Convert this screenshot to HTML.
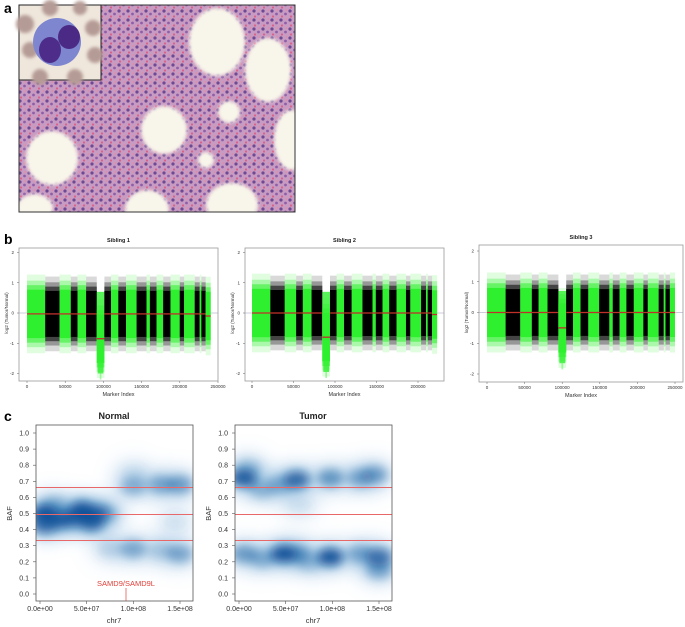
<!DOCTYPE html>
<html><head><meta charset="utf-8">
<style>
html,body{margin:0;padding:0;background:#fff;}
svg{display:block;font-family:"Liberation Sans",Arial,sans-serif;}
</style></head>
<body>
<svg id="fig" width="685" height="627" viewBox="0 0 685 627" xmlns="http://www.w3.org/2000/svg">
<defs>
  <pattern id="tissue" width="9" height="9" patternUnits="userSpaceOnUse">
    <rect width="9" height="9" fill="#c79bc2"/>
    <circle cx="2" cy="2" r="1.6" fill="#6d4a93"/>
    <circle cx="6.5" cy="5" r="1.4" fill="#8e5fa8"/>
    <circle cx="3" cy="7.5" r="1.1" fill="#d9628a"/>
    <circle cx="7.5" cy="1" r="0.9" fill="#e38aa6"/>
  </pattern>
  <filter id="blur" x="-50%" y="-50%" width="200%" height="200%"><feGaussianBlur stdDeviation="5"/></filter>
  <filter id="blur2" x="-50%" y="-50%" width="200%" height="200%"><feGaussianBlur stdDeviation="9"/></filter>
  <filter id="soft"><feGaussianBlur stdDeviation="1.5"/></filter>
  <clipPath id="clipN"><rect x="36" y="425" width="157" height="176"/></clipPath>
  <clipPath id="clipT"><rect x="235" y="425" width="157" height="176"/></clipPath>
  <clipPath id="clipA"><rect x="19" y="5" width="276" height="207"/></clipPath>
</defs>

<text x="4" y="13" font-size="14" font-weight="bold">a</text>
<g clip-path="url(#clipA)">
  <rect x="19" y="5" width="276" height="207" fill="url(#tissue)"/>
  <g fill="#f8f5ea" filter="url(#soft)">
    <ellipse cx="217" cy="42" rx="28" ry="34"/>
    <ellipse cx="268" cy="70" rx="23" ry="32"/>
    <ellipse cx="164" cy="130" rx="23" ry="24"/>
    <ellipse cx="52" cy="158" rx="26" ry="27"/>
    <ellipse cx="292" cy="140" rx="18" ry="30"/>
    <ellipse cx="229" cy="112" rx="11" ry="11"/>
    <ellipse cx="147" cy="210" rx="22" ry="20"/>
    <ellipse cx="232" cy="205" rx="26" ry="22"/>
    <ellipse cx="35" cy="208" rx="18" ry="14"/>
    <ellipse cx="206" cy="160" rx="8" ry="8"/>
  </g>
</g>
<rect x="19" y="5" width="276" height="207" fill="none" stroke="#333" stroke-width="1"/>
<g>
  <rect x="19" y="5" width="82" height="75" fill="#efe7dc" stroke="#222" stroke-width="1"/>
  <g fill="#b59b95" filter="url(#soft)">
    <circle cx="25" cy="24" r="9"/><circle cx="30" cy="50" r="8"/><circle cx="93" cy="28" r="8"/>
    <circle cx="95" cy="55" r="8"/><circle cx="50" cy="8" r="8"/><circle cx="80" cy="8" r="7"/>
    <circle cx="40" cy="77" r="8"/><circle cx="75" cy="77" r="8"/>
  </g>
  <circle cx="57" cy="42" r="24" fill="#7e86cf"/>
  <ellipse cx="50" cy="50" rx="11" ry="13" fill="#4d2c8a"/>
  <ellipse cx="69" cy="37" rx="11" ry="12" fill="#4a2a85"/>
</g>

<text x="4" y="244" font-size="14" font-weight="bold">b</text>
<g id="panelB"></g>

<text x="4" y="421" font-size="14" font-weight="bold">c</text>
<g id="panelC"></g>
</svg>

<script>
const chrBoundaries = [0,23900,42600,57400,66100,77400,91300,101300,110000,119600,129600,143500,156500,160900,169600,178300,187800,200000,205700,219600,226100,228300,233900,240400];
const sib1Means = [-0.03,-0.03,-0.03,-0.03,-0.03,-0.03,-0.85,-0.03,-0.03,-0.03,-0.03,-0.03,-0.03,-0.03,-0.03,-0.03,-0.03,-0.03,-0.03,-0.03,-0.03,-0.03,-0.1];
const sib2Means = [0,0,0,0,0,0,-0.8,0,0,0,0,0,0,0,0,0,0,0,0,0,0,0,-0.05];
const sib3Means = [0,0,0,0,0,0,-0.5,0,0,0,0,0,0,0,0,0,0,0,0,0,0,0,0];
const sibTitles = ["Sibling 1","Sibling 2","Sibling 3"];
const sibTotals = [240400,223000,250000];
const sibTicks1 = [0,50000,100000,150000,200000,250000];
const sibTicks2 = [0,50000,100000,150000,200000];
const sibTicks3 = [0,50000,100000,150000,200000,250000];
const yTicksB = [-2,-1,0,1,2];

const normalPos = [0.05,0.05,0.2,0.35,0.45,0.55,0.6,0.7,1.0,1.0,1.3,1.5,1.5,1.3,0.75,1.0,1.45,0.15];
const normalBaf = [0.50,0.43,0.46,0.47,0.52,0.45,0.50,0.50,0.67,0.28,0.68,0.68,0.25,0.27,0.28,0.75,0.45,0.55];
const normalW   = [0.95,0.8,0.85,0.85,0.95,0.9,0.8,0.45,0.5,0.55,0.55,0.6,0.55,0.35,0.3,0.2,0.2,0.45];
const tumorPos = [0.05,0.05,0.25,0.25,0.48,0.45,0.62,0.62,0.75,0.98,0.98,1.3,1.45,1.3,1.5,1.5,0.65,0.1];
const tumorBaf = [0.72,0.25,0.65,0.22,0.25,0.68,0.71,0.25,0.20,0.23,0.72,0.72,0.74,0.25,0.23,0.15,0.55,0.78];
const tumorW   = [0.9,0.6,0.45,0.5,0.95,0.5,0.85,0.6,0.4,0.95,0.65,0.55,0.6,0.55,0.8,0.55,0.2,0.4];
const bafLines = [0.333,0.5,0.667];
const bafTicks = [0,0.1,0.2,0.3,0.4,0.5,0.6,0.7,0.8,0.9,1.0];
const chrTicks = [0,0.5,1.0,1.5];
const chrTickLabels = ["0.0e+00","5.0e+07","1.0e+08","1.5e+08"];

const NS = "http://www.w3.org/2000/svg";
function mk(tag, attrs, parent){
  const e = document.createElementNS(NS, tag);
  for (const k in attrs) e.setAttribute(k, attrs[k]);
  parent.appendChild(e);
  return e;
}

const B = document.getElementById('panelB');
const sibFrames = [
  {fx:19, fw:199, fy:248, fh:133, x0:27, xpp:191/250000, yz:313, ypu:30.25},
  {fx:245, fw:199, fy:248, fh:133, x0:252, xpp:166/200000, yz:313, ypu:30.25},
  {fx:479, fw:204, fy:245, fh:137, x0:487, xpp:188/250000, yz:312.5, ypu:30.75}
];
const sibMeansAll = [sib1Means, sib2Means, sib3Means];
const sibTicksAll = [sibTicks1, sibTicks2, sibTicks3];
sibFrames.forEach((f, si) => {
  const g = mk('g', {}, B);
  
  
  const scale = sibTotals[si] / chrBoundaries[chrBoundaries.length-1];
  const X = v => f.x0 + v * f.xpp;
  const Y = v => f.yz - v * f.ypu;
  mk('line', {x1:f.fx, x2:f.fx+f.fw, y1:Y(0), y2:Y(0), stroke:'#ccd', 'stroke-width':1}, g);
  const fuzz = [[1.3,0.15],[1.1,0.3],[0.95,0.55],[0.8,1]];
  for (let i = 0; i < chrBoundaries.length-1; i++) {
    const a = chrBoundaries[i]*scale, b = chrBoundaries[i+1]*scale;
    const green = (i % 2 === 0);
    const col = green ? '#2ef02e' : '#000';
    const m = sibMeansAll[si][i];
    const seg = mk('g', {}, g);
    
    
    fuzz.forEach(([h, op]) => {
      const hh = green ? h : h*0.95;
      mk('rect', {x:X(a), width:X(b)-X(a), y:Y(m+hh), height:Y(m-hh)-Y(m+hh), fill:col, opacity:op}, seg);
    });
    if (m < -0.3) {
      mk('rect', {x:X(a)+1, width:X(b)-X(a)-2, y:Y(m-0.8), height:Y(m-1.15)-Y(m-0.8), fill:col, opacity:0.8}, seg);
      mk('rect', {x:X(a)+3, width:X(b)-X(a)-6, y:Y(m-1.15), height:Y(m-1.35)-Y(m-1.15), fill:col, opacity:0.4}, seg);
      mk('rect', {x:X(a), width:X(b)-X(a), y:Y(0.7), height:Y(m)-Y(0.7), fill:col, opacity:0.8}, seg);
    }
    const ln = mk('line', {x1:X(a), x2:X(b), y1:Y(m), y2:Y(m), stroke:'#c0302a', 'stroke-width':1.3}, g);
    
    
  }
  mk('rect', {x:f.fx, y:f.fy, width:f.fw, height:f.fh, fill:'none', stroke:'#999', 'stroke-width':0.8}, g);
  yTicksB.forEach(t => {
    mk('line', {x1:f.fx-2, x2:f.fx, y1:Y(t), y2:Y(t), stroke:'#666', 'stroke-width':0.5}, g);
    const tx = mk('text', {x:f.fx-5, y:Y(t)+1.5, 'font-size':4.5, 'text-anchor':'end', fill:'#333'}, g);
    tx.textContent = t;
  });
  sibTicksAll[si].forEach(t => {
    mk('line', {x1:X(t), x2:X(t), y1:f.fy+f.fh, y2:f.fy+f.fh+2, stroke:'#666', 'stroke-width':0.5}, g);
    const tx = mk('text', {x:X(t), y:f.fy+f.fh+7, 'font-size':4.5, 'text-anchor':'middle', fill:'#333'}, g);
    tx.textContent = t;
  });
  const title = mk('text', {x:f.fx+f.fw/2, y:f.fy-6, 'font-size':5.5, 'font-weight':'bold', 'text-anchor':'middle', fill:'#222'}, g);
  
  
  title.textContent = sibTitles[si];
  const xl = mk('text', {x:f.fx+f.fw/2, y:f.fy+f.fh+15, 'font-size':5.5, 'text-anchor':'middle', fill:'#333'}, g);
  
  
  xl.textContent = 'Marker Index';
  const yl = mk('text', {x:0, y:0, 'font-size':4.5, 'text-anchor':'middle', fill:'#333', transform:'translate(' + (f.fx-11) + ',' + Y(0) + ') rotate(-90)'}, g);
  
  
  yl.textContent = 'log2 (Tumor/Normal)';
});

const C = document.getElementById('panelC');
const bafFrames = [
  {fx:36, fx0:40, title:'Normal', clip:'clipN', pos:normalPos, baf:normalBaf, w:normalW},
  {fx:235, fx0:239, title:'Tumor', clip:'clipT', pos:tumorPos, baf:tumorBaf, w:tumorW}
];
bafFrames.forEach((f, pi) => {
  const g = mk('g', {}, C);
  
  
  const X = v => f.fx0 + v * 93.33;
  const Y = v => 594 - v * 161;
  const dens = mk('g', {'clip-path':'url(#' + f.clip + ')'}, g);
  const halo = mk('g', {filter:'url(#blur2)'}, dens);
  for (let i = 0; i < f.pos.length; i++) {
    mk('ellipse', {cx:X(f.pos[i]), cy:Y(f.baf[i]), rx:22, ry:16, fill:'#6aa6d6', opacity:0.35*f.w[i]+0.1}, halo);
  }
  const inner = mk('g', {filter:'url(#blur)'}, dens);
  for (let i = 0; i < f.pos.length; i++) {
    const e = mk('ellipse', {cx:X(f.pos[i]), cy:Y(f.baf[i]), rx:13, ry:9, fill:'#0b4f96', opacity:Math.pow(f.w[i],1.5)}, inner);
    
    
  }
  bafLines.forEach(v => {
    const l = mk('line', {x1:f.fx, x2:f.fx+157, y1:Math.round(Y(v))+0.5, y2:Math.round(Y(v))+0.5, stroke:'#e8686a', 'stroke-width':1}, g);
    
    
  });
  mk('rect', {x:f.fx, y:425, width:157, height:176, fill:'none', stroke:'#555', 'stroke-width':0.8}, g);
  bafTicks.forEach(t => {
    mk('line', {x1:f.fx-3, x2:f.fx, y1:Y(t), y2:Y(t), stroke:'#555', 'stroke-width':0.6}, g);
    const tx = mk('text', {x:f.fx-7, y:Y(t)+2.5, 'font-size':7, 'text-anchor':'end', fill:'#333'}, g);
    tx.textContent = t.toFixed(1);
  });
  chrTicks.forEach((t, i) => {
    mk('line', {x1:X(t), x2:X(t), y1:601, y2:604, stroke:'#555', 'stroke-width':0.6}, g);
    const tx = mk('text', {x:X(t), y:611, 'font-size':7, 'text-anchor':'middle', fill:'#333'}, g);
    tx.textContent = chrTickLabels[i];
  });
  const t = mk('text', {x:f.fx+78, y:419, 'font-size':9, 'font-weight':'bold', 'text-anchor':'middle', fill:'#222'}, g);
  
  
  t.textContent = f.title;
  const xl = mk('text', {x:f.fx+78, y:623, 'font-size':7.5, 'text-anchor':'middle', fill:'#333'}, g);
  
  
  xl.textContent = 'chr7';
  const yl = mk('text', {x:0, y:0, 'font-size':7.5, 'text-anchor':'middle', fill:'#333', transform:'translate(' + (f.fx-24) + ',' + Y(0.5) + ') rotate(-90)'}, g);
  
  
  yl.textContent = 'BAF';
  if (pi === 0) {
    const lab = mk('text', {x:126, y:586, 'font-size':7.5, 'text-anchor':'middle', fill:'#e0403a'}, g);
    
    
    lab.textContent = 'SAMD9/SAMD9L';
    mk('line', {x1:126, x2:126, y1:588, y2:601, stroke:'#e0403a', 'stroke-width':0.7}, g);
  }
});
</script>
</body></html>
